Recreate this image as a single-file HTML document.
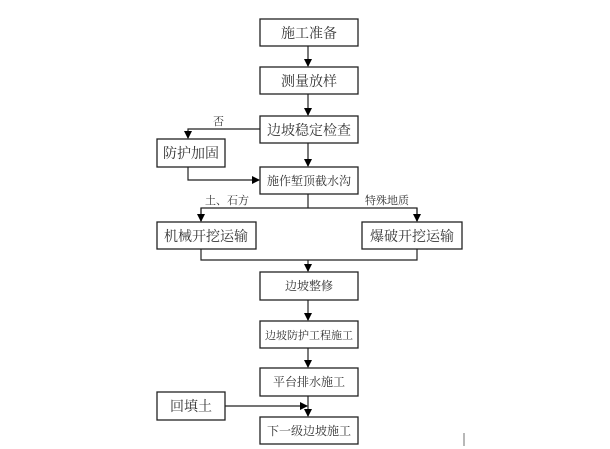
<!DOCTYPE html>
<html><head><meta charset="utf-8"><style>
html,body{margin:0;padding:0;background:#fff;}
svg{display:block;}
text{font-family:"Liberation Serif","Noto Serif CJK SC","Noto Sans CJK SC",serif;fill:#333;}
</style></head><body>
<svg width="610" height="449" viewBox="0 0 610 449" xmlns="http://www.w3.org/2000/svg">
<defs><marker id="a" markerWidth="8" markerHeight="8" refX="7" refY="4" orient="auto" markerUnits="userSpaceOnUse"><path d="M0,0 L8,4 L0,8 z" fill="#000"/></marker></defs>
<g fill="#fff" stroke="#222" stroke-width="1.3">
<rect x="260" y="19" width="98" height="27"/>
<rect x="260" y="67" width="98" height="27"/>
<rect x="260" y="116" width="98" height="27"/>
<rect x="157" y="139" width="68" height="28"/>
<rect x="260" y="167" width="98" height="27"/>
<rect x="157" y="222" width="99" height="27"/>
<rect x="362" y="222" width="100" height="27"/>
<rect x="260" y="272" width="98" height="28"/>
<rect x="260" y="321" width="98" height="27"/>
<rect x="260" y="368" width="98" height="28"/>
<rect x="157" y="392" width="68" height="28"/>
<rect x="260" y="417" width="98" height="27"/>
</g>
<g stroke="#222" stroke-width="1.2" fill="none">
<line x1="308" y1="46" x2="308" y2="66" marker-end="url(#a)"/>
<line x1="308" y1="94" x2="308" y2="115" marker-end="url(#a)"/>
<line x1="308" y1="143" x2="308" y2="166" marker-end="url(#a)"/>
<polyline points="260,129 188,129 188,138" marker-end="url(#a)"/>
<polyline points="188,167 188,180 259,180" marker-end="url(#a)"/>
<line x1="308" y1="194" x2="308" y2="208"/>
<polyline points="201,221 201,208 417,208 417,221"/>
<line x1="201" y1="208" x2="201" y2="221" marker-end="url(#a)"/>
<line x1="417" y1="208" x2="417" y2="221" marker-end="url(#a)"/>
<polyline points="201,249 201,260 417,260 417,249"/>
<line x1="308" y1="260" x2="308" y2="271" marker-end="url(#a)"/>
<line x1="308" y1="300" x2="308" y2="320" marker-end="url(#a)"/>
<line x1="308" y1="348" x2="308" y2="367" marker-end="url(#a)"/>
<line x1="308" y1="396" x2="308" y2="416" marker-end="url(#a)"/>
<line x1="225" y1="406" x2="307" y2="406" marker-end="url(#a)"/>
<line x1="464" y1="433" x2="464" y2="446" stroke="#888"/>
</g>
<g font-size="14" text-anchor="middle">
<text x="309" y="38">施工准备</text>
<text x="309" y="86">测量放样</text>
<text x="309" y="135">边坡稳定检查</text>
<text x="191" y="158">防护加固</text>
<text x="206" y="241">机械开挖运输</text>
<text x="412" y="241">爆破开挖运输</text>
<text x="191" y="411">回填土</text>
</g>
<g font-size="12" text-anchor="middle">
<text x="309" y="185">施作堑顶截水沟</text>
<text x="309" y="290">边坡整修</text>
<text x="309" y="386">平台排水施工</text>
<text x="309" y="435">下一级边坡施工</text>
</g>
<text x="309" y="339" font-size="11" text-anchor="middle">边坡防护工程施工</text>
<g font-size="11">
<text x="213" y="125">否</text>
<text x="205" y="204">土、石方</text>
<text x="365" y="204">特殊地质</text>
</g>
</svg>
</body></html>
